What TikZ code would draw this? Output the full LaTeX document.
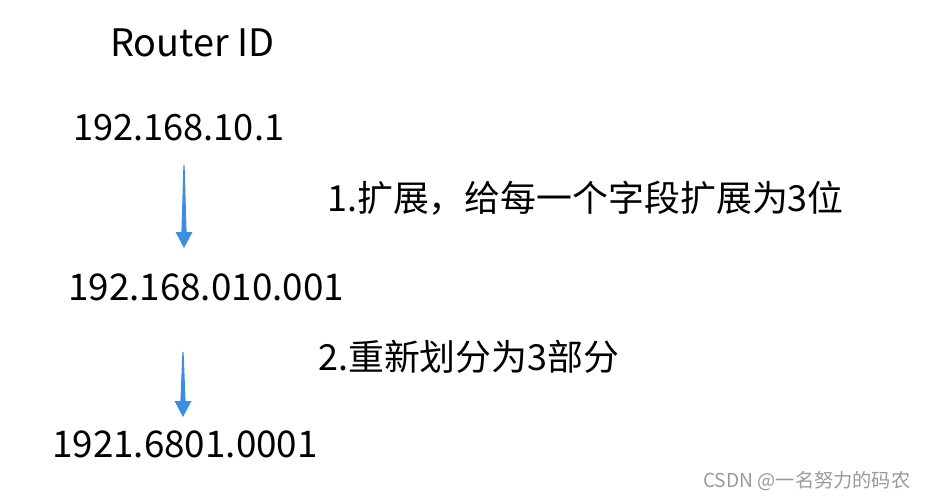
\documentclass[tikz,border=0pt]{standalone}
\usepackage{fontspec}
\setmainfont{Noto Sans CJK SC}
\usetikzlibrary{calc}
\definecolor{arrowblue}{HTML}{3C8FE0}
\definecolor{markgray}{HTML}{9A9A9A}
\tikzset{
  txt/.style={anchor=base west, inner sep=0pt, font=\fontsize{36.8}{42}\selectfont, text=black},
  cjktxt/.style={anchor=base west, inner sep=0pt, font=\fontsize{35.9}{42}\selectfont, text=black},
  wmark/.style={anchor=base west, inner sep=0pt, font=\fontsize{19.2}{22}\selectfont, text=markgray},
  taper/.style={fill=arrowblue, draw=none}
}
\begin{document}
\begin{tikzpicture}[x=1pt,y=-1pt]
\useasboundingbox[fill=white] (0,0) rectangle (928,500);
\node[txt, font=\fontsize{37.8}{42}\selectfont] (rid) at (110,57) {Router ID};
\node[txt, font=\fontsize{36.2}{42}\selectfont] (ip1) at (73,140) {192.168.10.1};
\node[cjktxt] (step1) at (327,211) {1.扩展，给每一个字段扩展为3位};
\node[txt] (ip2) at (68,300) {192.168.010.001};
\node[cjktxt] (step2) at (318,370) {2.重新划分为3部分};
\node[txt] (ip3) at (52,457) {1921.6801.0001};
\node[wmark] (wm) at (703,487) {CSDN @一名努力的码农};
% arrows
\coordinate (a1s) at (184,165);
\coordinate (a1e) at (184,248);
\coordinate (a2s) at (183,352);
\coordinate (a2e) at (183,417);
\fill[taper] ($(a1s)+(-0.6,0)$) -- ($(a1s)+(0.6,0)$) -- ($(a1e)+(2.6,-16)$) -- ($(a1e)+(8.5,-16)$) -- (a1e) -- ($(a1e)+(-8.5,-16)$) -- ($(a1e)+(-2.6,-16)$) -- cycle;
\fill[taper] ($(a2s)+(-0.6,0)$) -- ($(a2s)+(0.6,0)$) -- ($(a2e)+(2.6,-16)$) -- ($(a2e)+(8.5,-16)$) -- (a2e) -- ($(a2e)+(-8.5,-16)$) -- ($(a2e)+(-2.6,-16)$) -- cycle;
\end{tikzpicture}
\end{document}
